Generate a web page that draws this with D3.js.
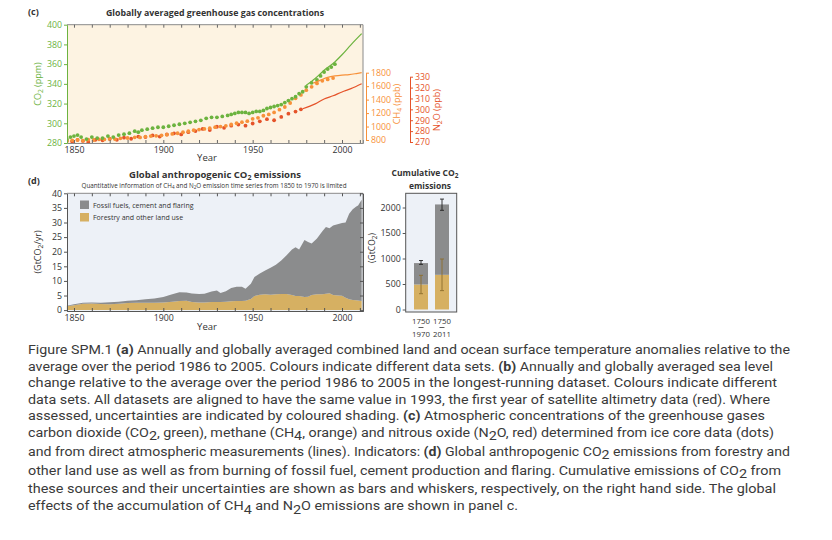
<html>
<head>
<style>
  body { margin: 0; background: #fff; }
  svg text { font-family: "Open Sans", "Noto Sans", sans-serif; fill: #333; }
  .tick text { font-size: 8.8px; }
  .frame { fill: none; stroke: #8a8a8a; stroke-width: 1; }
  .caption { font-family: "Liberation Sans Narrow", "Roboto", sans-serif; font-size: 13.6px; fill: #3a3a3a; }
</style>
</head>
<body>
<svg id="container" width="832" height="540"></svg>
<script src="https://cdn.jsdelivr.net/npm/d3@7"></script>
<script>
// ---- panel (c) data: ice core dots ----
const co2Years = [1846,1848,1850,1852,1854,1857,1860,1863,1866,1869,1872,1875,1878,1881,1884,1886,1888,1891,1894,1897,1900,1903,1906,1909,1912,1915,1918,1921,1924,1927,1930,1933,1936,1938,1940,1942,1944,1946,1948,1950,1952,1954,1956,1958,1960,1962,1964,1966,1968,1970,1972,1974,1976,1978,1980,1983,1986,1988,1990,1992,1994,1996];
const co2Dots = [284,286,287,288,286,284,286,285,285,287,286,288,289,290,292,291,293,294,295,296,296,297,298,299,300,301,302,303,305,306,306,307,308,309,310,311,311,311,310,311,312,312,313,315,316,317,318,319,321,323,325,327,330,332,337,341,344,348,352,355,357,360];
const ch4Years = [1846,1849,1852,1855,1858,1861,1864,1867,1870,1873,1876,1880,1884,1887,1890,1893,1896,1899,1902,1905,1908,1911,1914,1917,1920,1923,1926,1929,1932,1935,1938,1941,1944,1947,1950,1953,1956,1959,1962,1965,1968,1971,1974,1977,1980,1983,1986,1989,1992,1995];
const ch4Dots = [790,795,800,792,805,800,810,808,815,812,825,830,840,838,850,858,862,870,878,890,900,915,930,945,955,965,975,990,1000,1010,1030,1050,1065,1080,1115,1130,1160,1180,1210,1250,1290,1350,1420,1470,1540,1590,1640,1680,1700,1720];
const n2oYears = [1846,1849,1852,1855,1858,1862,1866,1870,1874,1878,1882,1886,1890,1894,1898,1902,1906,1910,1914,1918,1922,1926,1930,1934,1938,1942,1946,1950,1954,1958,1962,1966,1970,1974,1977];
const n2oDots = [271,270.5,272,271,270,272,271.5,273,272,274,273,275,274.5,276,275,277,278,277,279,280,282,281,284,283,285,286,285,287,289,291,290,293,296,298,300];

// ---- panel (c) data: atmospheric measurements (lines) ----
const co2LineYears = [1980,1985,1990,1995,2000,2005,2011];
const co2Line = [338.7,345.5,353.8,360.6,369.5,379.6,390.9];
const ch4LineYears = [1984,1988,1992,1996,2000,2004,2008,2011];
const ch4Line = [1645,1690,1730,1752,1765,1772,1787,1800];
const n2oLineYears = [1978,1985,1990,1995,2000,2005,2011];
const n2oLine = [300.5,305,309.5,312.5,316,319,323.5];

// ---- panel (d) data: annual emissions (GtCO2/yr) ----
const emisYears = [1846,1850,1855,1860,1865,1870,1875,1880,1885,1890,1895,1900,1905,1909,1913,1916,1920,1923,1927,1930,1932,1935,1938,1941,1944,1946,1949,1951,1954,1957,1960,1963,1966,1969,1972,1974,1976,1979,1981,1983,1986,1989,1991,1993,1995,1998,2000,2002,2004,2006,2008,2009,2011];
const landUse = [1.3,1.7,2.2,2.3,2.1,2.0,2.2,2.4,2.5,2.5,2.5,2.6,2.9,3.1,3.2,2.8,2.6,2.6,2.8,2.8,2.8,2.9,3.0,3.1,3.1,3.2,3.8,4.8,5.3,5.4,5.3,5.4,5.5,5.5,5.2,4.8,4.8,4.5,4.6,5.2,5.4,5.4,5.6,5.8,5.2,5.0,4.9,4.2,3.7,3.5,3.4,3.3,3.1];
const fossil = [0.2,0.3,0.3,0.3,0.4,0.7,0.7,0.8,0.9,1.2,1.5,1.9,2.5,3.0,2.8,2.9,2.9,3.0,3.6,3.9,3.1,3.6,4.6,4.9,4.9,4.1,5.2,6.5,7.2,8.2,9.2,10.1,11.5,13.3,15.6,16.7,16.0,19.5,18.7,17.6,19.1,21.6,22.9,22.2,23.8,24.5,24.9,25.8,29.3,31.0,32.1,32.5,34.7];
const legendLabels = ["Fossil fuels, cement and flaring", "Forestry and other land use"];

// ---- cumulative emissions (GtCO2) ----
const periods = ["1750-1970", "1750-2011"];
const periodStart = ["1750", "1750"];
const periodEnd = ["1970", "2011"];
const cumLand = [490, 680];
const cumFossil = [420, 1380];
const cumTotalErr = [[885, 960], [1945, 2165]];
const cumLandErr = [[310, 670], [370, 990]];

const yearTicks = [1850, 1900, 1950, 2000];

const svg = d3.select("#container");
const green = "#6cb33f", orange = "#f7913a", red = "#e5532a";
const grayFill = "#8b8c8d", tan = "#d6b062";
const fmt = d3.format("d");

// shared year scale
const x = d3.scaleLinear().domain([1846.1, 2011.75]).range([67, 363]);
const decades = d3.range(1850, 2011, 10);

// ================= panel (c) =================
const cTop = 24.7, cBot = 143;
const yCO2 = d3.scaleLinear().domain([280, 400]).range([cBot, cTop]);
const yCH4 = d3.scaleLinear().domain([800, 1800]).range([140, 72.7]);
const yN2O = d3.scaleLinear().domain([270, 330]).range([142, 76.7]);

svg.append("rect").attr("x", 67).attr("y", cTop).attr("width", 296).attr("height", cBot - cTop)
  .attr("fill", "#fdf3e2");

svg.append("defs").append("clipPath").attr("id", "clipC")
  .append("rect").attr("x", 67).attr("y", cTop).attr("width", 296).attr("height", cBot - cTop);

const pc = svg.append("g").attr("clip-path", "url(#clipC)");

function dots(years, vals, scale, color) {
  pc.append("g").selectAll("circle").data(years).join("circle")
    .attr("cx", d => x(d)).attr("cy", (d, i) => scale(vals[i])).attr("r", 1.9)
    .attr("fill", color);
}
function line(years, vals, scale, color) {
  pc.append("path").datum(years)
    .attr("d", d3.line().x(d => x(d)).y((d, i) => scale(vals[i])).curve(d3.curveMonotoneX))
    .attr("fill", "none").attr("stroke", color).attr("stroke-width", 1.2);
}
dots(n2oYears, n2oDots, yN2O, red);
dots(ch4Years, ch4Dots, yCH4, orange);
dots(co2Years, co2Dots, yCO2, green);
line(n2oLineYears, n2oLine, yN2O, red);
line(ch4LineYears, ch4Line, yCH4, orange);
line(co2LineYears, co2Line, yCO2, green);

// frame and axes
svg.append("path").attr("class", "frame")
  .attr("d", `M67,${cTop}H363V${cBot}`);
svg.append("g").attr("transform", `translate(0,${cTop})`)
  .call(d3.axisTop(x).tickValues(decades).tickSize(-3).tickFormat(""))
  .call(g => g.select(".domain").remove())
  .call(g => g.selectAll("line").attr("stroke", "#666"));
svg.append("g").attr("transform", `translate(0,${cBot})`)
  .call(d3.axisBottom(x).tickValues(decades).tickSize(-3).tickPadding(4)
    .tickFormat(d => yearTicks.includes(d) ? fmt(d) : ""))
  .call(g => g.select(".domain").attr("stroke", "#8a8a8a"))
  .call(g => g.selectAll("line").attr("stroke", "#666"));
svg.append("g").attr("transform", "translate(67,0)")
  .call(d3.axisLeft(yCO2).tickValues(d3.range(280, 401, 20)).tickSize(3).tickPadding(2).tickSizeOuter(0).tickFormat(fmt))
  .call(g => g.selectAll(".domain, line").attr("stroke", green))
  .call(g => g.selectAll("text").style("fill", green));
svg.append("g").attr("transform", "translate(366,0)")
  .call(d3.axisRight(yCH4).tickValues(d3.range(800, 1801, 200)).tickSize(3).tickPadding(2).tickSizeOuter(0).tickFormat(fmt))
  .call(g => g.selectAll(".domain, line").attr("stroke", orange))
  .call(g => g.selectAll("text").style("fill", orange));
svg.append("g").attr("transform", "translate(410,0)")
  .call(d3.axisRight(yN2O).tickValues(d3.range(270, 331, 10)).tickSize(3).tickPadding(2).tickSizeOuter(0).tickFormat(fmt))
  .call(g => g.selectAll(".domain, line").attr("stroke", red))
  .call(g => g.selectAll("text").style("fill", red));

function rotLabel(xp, yp, parts, color, size) {
  const t = svg.append("text").attr("transform", `translate(${xp},${yp}) rotate(-90)`)
    .attr("text-anchor", "middle").style("font-size", size + "px").style("fill", color);
  parts.forEach(p => {
    const s = t.append("tspan").text(p[0]);
    if (p[1] === "sub") s.attr("dy", 2).style("font-size", (size * 0.75) + "px");
    if (p[1] === "up") s.attr("dy", -2);
  });
  return t;
}
rotLabel(41, 84, [["CO"], ["2", "sub"], [" (ppm)", "up"]], green, 9);
rotLabel(400, 104, [["CH"], ["4", "sub"], [" (ppb)", "up"]], orange, 9);
rotLabel(440, 110, [["N"], ["2", "sub"], ["O (ppb)", "up"]], red, 9);

svg.append("text").attr("x", 28).attr("y", 15).text("(c)")
  .style("font-size", "9px").style("font-weight", "bold");
svg.append("text").attr("x", 215).attr("y", 16).attr("text-anchor", "middle")
  .attr("textLength", 218).attr("lengthAdjust", "spacingAndGlyphs")
  .style("font-size", "9.5px").style("font-weight", "bold")
  .text("Globally averaged greenhouse gas concentrations");
svg.append("text").attr("x", 207).attr("y", 161).attr("text-anchor", "middle")
  .style("font-size", "9.5px").text("Year");

// ================= panel (d) =================
const dTop = 193.3, dBot = 311;
const yE = d3.scaleLinear().domain([-0.3, 40]).range([dBot, dTop]);

svg.append("rect").attr("x", 67).attr("y", dTop).attr("width", 296).attr("height", dBot - dTop)
  .attr("fill", "#edf1f7");

const emisTable = emisYears.map((yr, i) => ({ year: yr, land: landUse[i], fossil: fossil[i] }));
const stacked = d3.stack().keys(["land", "fossil"])(emisTable);
const area = d3.area().x(d => x(d.data.year)).y0(d => yE(d[0])).y1(d => yE(d[1]));
svg.append("g").selectAll("path").data(stacked).join("path")
  .attr("d", area).attr("fill", (d, i) => i === 0 ? tan : grayFill);

svg.append("path").attr("class", "frame").attr("d", `M67,${dTop}H363V${dBot}`);
svg.append("g").attr("transform", `translate(0,${dTop})`)
  .call(d3.axisTop(x).tickValues(decades).tickSize(-3).tickFormat(""))
  .call(g => g.select(".domain").remove())
  .call(g => g.selectAll("line").attr("stroke", "#555"));
svg.append("g").attr("transform", `translate(0,${dBot})`)
  .call(d3.axisBottom(x).tickValues(decades).tickSize(-3).tickPadding(4)
    .tickFormat(d => yearTicks.includes(d) ? fmt(d) : ""))
  .call(g => g.select(".domain").attr("stroke", "#555"))
  .call(g => g.selectAll("line").attr("stroke", "#555"));
svg.append("g").attr("transform", "translate(67,0)")
  .call(d3.axisLeft(yE).tickValues(d3.range(0, 41, 5)).tickSize(3).tickPadding(2).tickSizeOuter(0))
  .call(g => g.selectAll(".domain, line").attr("stroke", "#555"));
svg.append("g").attr("transform", "translate(363,0)")
  .call(d3.axisRight(yE).tickValues(d3.range(0, 41, 5)).tickSize(-3).tickFormat("").tickSizeOuter(0))
  .call(g => g.selectAll(".domain, line").attr("stroke", "#555"));

// legend
const lg = svg.append("g").attr("transform", "translate(80,200.5)");
legendLabels.forEach((lab, i) => {
  lg.append("rect").attr("x", 0).attr("y", i * 12.5).attr("width", 9).attr("height", 8.5)
    .attr("fill", i === 0 ? grayFill : tan);
  lg.append("text").attr("x", 13).attr("y", i * 12.5 + 7).style("font-size", "7px").text(lab);
});

svg.append("text").attr("x", 28).attr("y", 184).text("(d)")
  .style("font-size", "9px").style("font-weight", "bold");
const dt = svg.append("text").attr("x", 215).attr("y", 178).attr("text-anchor", "middle")
  .style("font-size", "9.5px").style("font-weight", "bold");
dt.append("tspan").text("Global anthropogenic CO");
dt.append("tspan").text("2").attr("dy", 2).style("font-size", "7px");
dt.append("tspan").text(" emissions").attr("dy", -2);
const st = svg.append("text").attr("x", 214).attr("y", 187.5).attr("text-anchor", "middle")
  .style("font-size", "6.3px");
st.append("tspan").text("Quantitative information of CH");
st.append("tspan").text("4").attr("dy", 1.3).style("font-size", "4.5px");
st.append("tspan").text(" and N").attr("dy", -1.3);
st.append("tspan").text("2").attr("dy", 1.3).style("font-size", "4.5px");
st.append("tspan").text("O emission time series from 1850 to 1970 is limited").attr("dy", -1.3);
rotLabel(41, 252, [["(GtCO"], ["2", "sub"], ["/yr)", "up"]], "#333", 9);
svg.append("text").attr("x", 207).attr("y", 330).attr("text-anchor", "middle")
  .style("font-size", "9.5px").text("Year");

// ================= cumulative bars =================
const bL = 405.7, bR = 456.7;
const yC = d3.scaleLinear().domain([0, 2000]).range([309.5, 207.5]);
const xb = d3.scaleBand().domain(periods).range([410.5, 452.5]).paddingInner(1 / 3).paddingOuter(1 / 6);

svg.append("rect").attr("x", bL).attr("y", dTop).attr("width", bR - bL).attr("height", dBot + 1 - dTop)
  .attr("fill", "#edf1f7").attr("stroke", "#555");

svg.append("g").selectAll("rect.land").data(periods).join("rect")
  .attr("x", d => xb(d)).attr("width", xb.bandwidth())
  .attr("y", (d, i) => yC(cumLand[i])).attr("height", (d, i) => yC(0) - yC(cumLand[i]))
  .attr("fill", tan);
svg.append("g").selectAll("rect.fos").data(periods).join("rect")
  .attr("x", d => xb(d)).attr("width", xb.bandwidth())
  .attr("y", (d, i) => yC(cumLand[i] + cumFossil[i])).attr("height", (d, i) => yC(cumLand[i]) - yC(cumLand[i] + cumFossil[i]))
  .attr("fill", grayFill);

function whiskers(errs, color) {
  const g = svg.append("g").attr("stroke", color).attr("stroke-width", 0.9);
  periods.forEach((p, i) => {
    const cx = xb(p) + xb.bandwidth() / 2;
    g.append("line").attr("x1", cx).attr("x2", cx).attr("y1", yC(errs[i][0])).attr("y2", yC(errs[i][1]));
    errs[i].forEach(v => g.append("line").attr("x1", cx - 2).attr("x2", cx + 2).attr("y1", yC(v)).attr("y2", yC(v)));
  });
}
whiskers(cumLandErr, "#8d6e2c");
whiskers(cumTotalErr, "#222");

svg.append("g").attr("transform", `translate(${bL},0)`)
  .call(d3.axisLeft(yC).tickValues(d3.range(0, 2001, 500)).tickSize(3).tickPadding(2).tickSizeOuter(0).tickFormat(fmt))
  .call(g => g.select(".domain").remove())
  .call(g => g.selectAll("line").attr("stroke", "#555"));

const pl = svg.append("g");
periods.forEach((p, i) => {
  const cx = xb(p) + xb.bandwidth() / 2;
  pl.append("text").attr("x", cx).attr("y", 323.5).attr("text-anchor", "middle").style("font-size", "7.8px").text(periodStart[i]);
  pl.append("line").attr("x1", cx - 2.5).attr("x2", cx + 2.5).attr("y1", 327.5).attr("y2", 327.5).attr("stroke", "#333").attr("stroke-width", 0.8);
  pl.append("text").attr("x", cx).attr("y", 337).attr("text-anchor", "middle").style("font-size", "7.8px").text(periodEnd[i]);
});

const ct = svg.append("text").attr("x", 425).attr("y", 176).attr("text-anchor", "middle")
  .style("font-size", "8.5px").style("font-weight", "bold");
ct.append("tspan").text("Cumulative CO");
ct.append("tspan").text("2").attr("dy", 2).style("font-size", "6.5px");
svg.append("text").attr("x", 430).attr("y", 189).attr("text-anchor", "middle")
  .style("font-size", "8.5px").style("font-weight", "bold").text("emissions");
rotLabel(375, 248, [["(GtCO"], ["2", "sub"], [")", "up"]], "#333", 8.5);

// ================= caption =================
const capLines = [
  [["Figure SPM.1 "], ["(a)", "b"], [" Annually and globally averaged combined land and ocean surface temperature anomalies relative to the"]],
  [["average over the period 1986 to 2005. Colours indicate different data sets. "], ["(b)", "b"], [" Annually and globally averaged sea level"]],
  [["change relative to the average over the period 1986 to 2005 in the longest-running dataset. Colours indicate different"]],
  [["data sets. All datasets are aligned to have the same value in 1993, the first year of satellite altimetry data (red). Where"]],
  [["assessed, uncertainties are indicated by coloured shading. "], ["(c)", "b"], [" Atmospheric concentrations of the greenhouse gases"]],
  [["carbon dioxide (CO"], ["2", "sub"], [", green), methane (CH", "up"], ["4", "sub"], [", orange) and nitrous oxide (N", "up"], ["2", "sub"], ["O, red) determined from ice core data (dots)", "up"]],
  [["and from direct atmospheric measurements (lines). Indicators: "], ["(d)", "b"], [" Global anthropogenic CO"], ["2", "sub"], [" emissions from forestry and", "up"]],
  [["other land use as well as from burning of fossil fuel, cement production and flaring. Cumulative emissions of CO"], ["2", "sub"], [" from", "up"]],
  [["these sources and their uncertainties are shown as bars and whiskers, respectively, on the right hand side. The global"]],
  [["effects of the accumulation of CH"], ["4", "sub"], [" and N", "up"], ["2", "sub"], ["O emissions are shown in panel c.", "up"]]
];
const capBase = [354, 370.5, 387, 403.5, 420, 436.5, 455.5, 474.5, 493, 510];
const capEnd = [790, 773, 777, 770, 765, 774, 790, 781, 776, 518];
capLines.forEach((segs, i) => {
  const t = svg.append("text").attr("class", "caption").attr("x", 28).attr("y", capBase[i])
    .attr("textLength", capEnd[i] - 28).attr("lengthAdjust", "spacingAndGlyphs");
  segs.forEach(s => {
    const sp = t.append("tspan").text(s[0]);
    if (s[1] === "b") sp.style("font-weight", "bold");
    if (s[1] === "sub") sp.attr("dy", 3.5);
    if (s[1] === "up") sp.attr("dy", -3.5);
  });
});
</script>
</body>
</html>
